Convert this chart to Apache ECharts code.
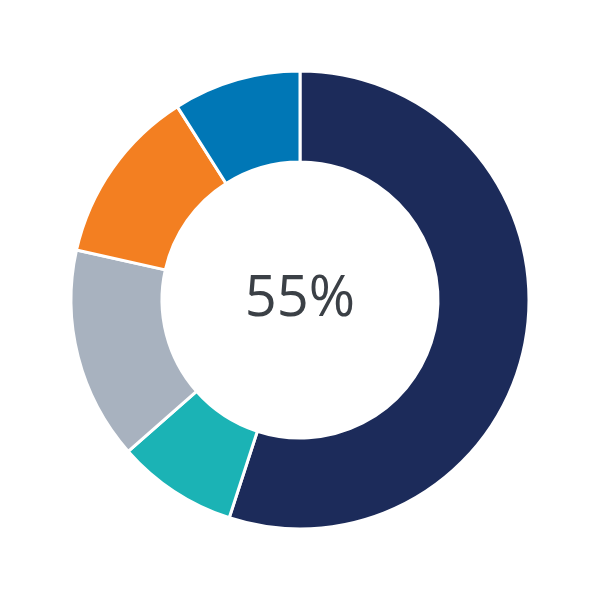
<!DOCTYPE html>
<html>
<head>
<meta charset="utf-8">
<script src="https://cdn.jsdelivr.net/npm/echarts@6/dist/echarts.min.js"></script>
<style>
  html, body { margin: 0; padding: 0; background: #fff; }
  #chart { width: 600px; height: 600px; }
</style>
</head>
<body>
<div id="chart"></div>
<script>
// slices clockwise from 12 o'clock
const sliceNames = ['A', 'B', 'C', 'D', 'E']
const sliceValues = [55, 8.5, 15, 12.5, 9]
const sliceColors = ['#1c2b5a', '#1bb3b5', '#a8b2bf', '#f37f21', '#0077b6']
const centerLabel = '55%'

const chart = echarts.init(document.getElementById('chart'))

const pieData = []
for (let i = 0; i < sliceValues.length; i++) {
  pieData.push({
    name: sliceNames[i],
    value: sliceValues[i],
    itemStyle: { color: sliceColors[i] }
  })
}

chart.setOption({
  animation: false,
  title: {
    text: centerLabel,
    left: 'center',
    top: 'middle',
    textStyle: {
      fontFamily: '"Open Sans", sans-serif',
      fontWeight: 'normal',
      fontSize: 56,
      color: '#3b4046'
    }
  },
  series: [{
    type: 'pie',
    center: [300, 300],
    radius: [138, 229],
    startAngle: 90,
    clockwise: true,
    label: { show: false },
    labelLine: { show: false },
    itemStyle: {
      borderColor: '#fff',
      borderWidth: 3
    },
    emphasis: { disabled: true },
    data: pieData
  }]
})
</script>
</body>
</html>
